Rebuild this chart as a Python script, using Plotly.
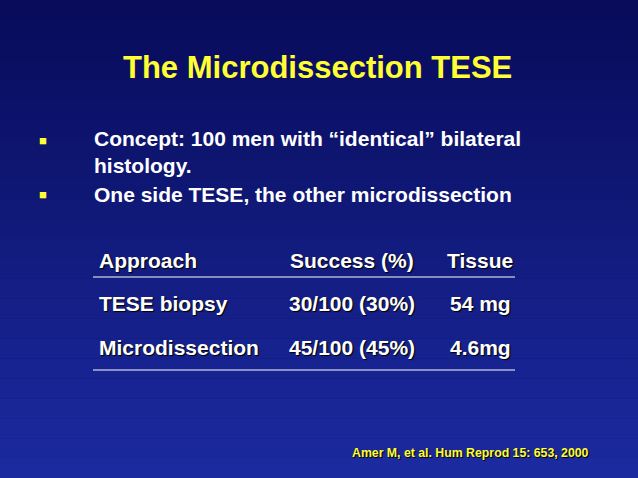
import plotly.graph_objects as go

title = "The Microdissection TESE"
bullets = ["Concept: 100 men with \u201cidentical\u201d bilateral<br>histology.",
           "One side TESE, the other microdissection"]
headers = ["Approach", "Success (%)", "Tissue"]
approach = ["TESE biopsy", "Microdissection"]
success = ["30/100 (30%)", "45/100 (45%)"]
tissue = ["54 mg", "4.6mg"]
citation = "Amer M, et al. Hum Reprod 15: 653, 2000"

W, H = 638, 478
fig = go.Figure()

# background gradient made of stacked bands
for i in range(24):
    t = i / 23
    r = int(8 + 20 * t)
    g = int(12 + 30 * t)
    b = int(90 + 70 * t)
    fig.add_shape(type="rect", x0=0, x1=W, y0=i * H / 24, y1=(i + 1) * H / 24,
                  line_width=0, fillcolor=f"rgb({r},{g},{b})", layer="below")

font = "Liberation Sans, Arial, sans-serif"
shadow = "1px 1px 1px #000000"

fig.add_annotation(x=317, y=67, text="<b>" + title + "</b>", showarrow=False,
                   font=dict(family=font, size=31, color="#ffff33"))

by = [152, 194]
for y, txt in zip(by, bullets):
    fig.add_annotation(x=37, y=y - (12 if "<br>" in txt else 0), text="\u25a0", showarrow=False,
                       font=dict(family=font, size=13, color="#ffff33"), xanchor="left")
    fig.add_annotation(x=92, y=y, text="<b>" + txt + "</b>", showarrow=False, align="left",
                       font=dict(family=font, size=21, color="white"), xanchor="left")

cols = [(97, "left"), (352, "center"), (480, "center")]
rows = [headers] + [list(r) for r in zip(approach, success, tissue)]
ys = [260, 303, 347]
for y, row in zip(ys, rows):
    for (x, anc), txt in zip(cols, row):
        fig.add_annotation(x=x, y=y, text="<b>" + txt + "</b>", showarrow=False, xanchor=anc,
                           font=dict(family=font, size=21, color="white", shadow=shadow))

for y in [277, 370]:
    fig.add_shape(type="line", x0=93, x1=515, y0=y, y1=y, line=dict(color="white", width=1))

fig.add_annotation(x=591, y=453, text="<b>" + citation + "</b>", showarrow=False, xanchor="right",
                   font=dict(family=font, size=12.3, color="#ffff33", shadow=shadow))

fig.update_layout(width=W, height=H, margin=dict(l=0, r=0, t=0, b=0),
                  paper_bgcolor="#0c1470", plot_bgcolor="#0c1470", showlegend=False,
                  xaxis=dict(range=[0, W], visible=False, fixedrange=True),
                  yaxis=dict(range=[H, 0], visible=False, fixedrange=True))
fig.write_html("out.html", config={"displayModeBar": False},
               post_script="document.body.style.margin='0';document.body.style.overflow='hidden';")
